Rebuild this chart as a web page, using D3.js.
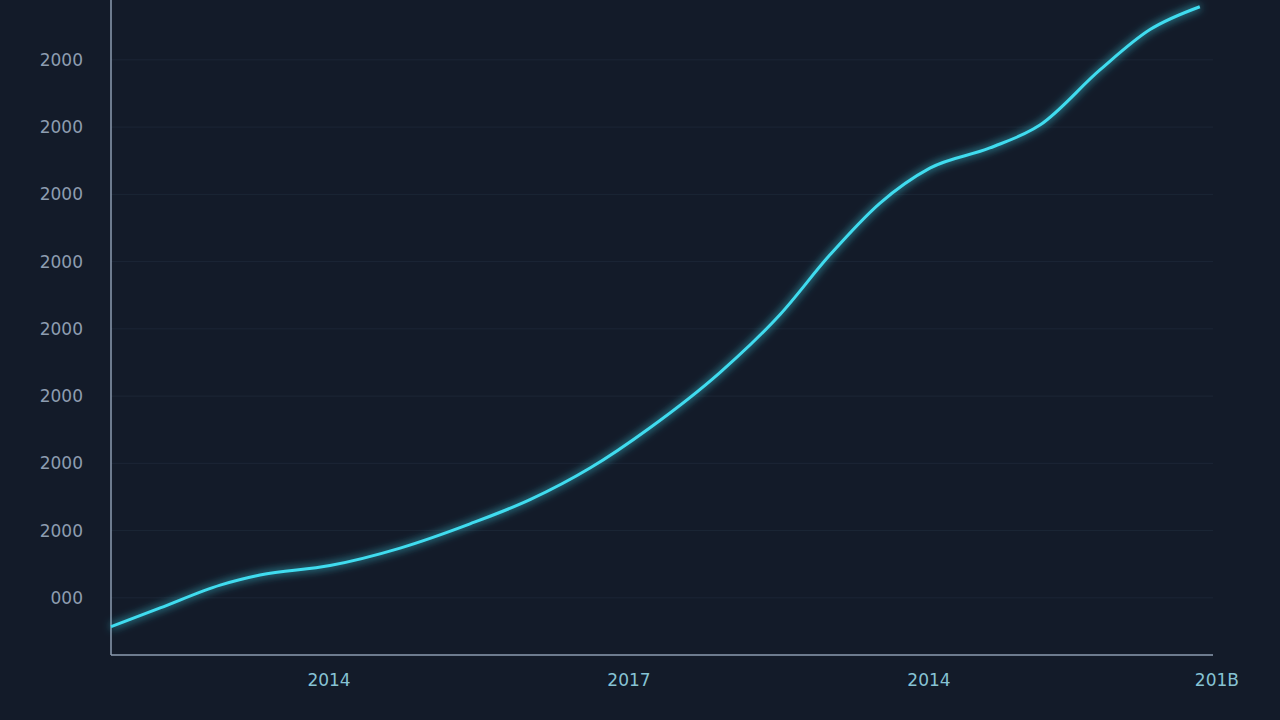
<!DOCTYPE html>
<html><head><meta charset="utf-8">
<script src="https://cdn.jsdelivr.net/npm/d3@7"></script>
<style>body{margin:0;background:#131b29;overflow:hidden}</style>
</head><body>
<script>
// tick labels as printed on the chart
const yTickLabels = ["000", "2000", "2000", "2000", "2000", "2000", "2000", "2000", "2000"];
const yTickValues = [0, 1, 2, 3, 4, 5, 6, 7, 8];
const xTickLabels = ["2014", "2017", "2014", "201B"];
const xTickValues = [1, 2, 3, 3.96];

// series
const xs = [0.273, 0.437, 0.637, 0.77, 1.003, 1.237, 1.47, 1.67, 1.87, 2.07, 2.303, 2.503, 2.67, 2.837, 3.003, 3.203, 3.37, 3.57, 3.737, 3.903];
const ys = [-0.43, -0.15, 0.19, 0.34, 0.48, 0.74, 1.10, 1.46, 1.93, 2.53, 3.35, 4.21, 5.10, 5.87, 6.39, 6.69, 7.03, 7.85, 8.45, 8.79];

function main() {
    let svg = d3.select("body").append("svg")
        .attr("width", 1280)
        .attr("height", 720);

    svg.append("rect").attr("width", 1280).attr("height", 720).attr("fill", "#131b29");

    let x = d3.scaleLinear().domain([0.273, 3.947]).range([111, 1213]);
    let y = d3.scaleLinear().domain([-0.85, 8.89]).range([655, 0]);

    // glow filter
    let f = svg.append("defs").append("filter").attr("id", "glow")
        .attr("x", "-20%").attr("y", "-20%").attr("width", "140%").attr("height", "140%");
    f.append("feGaussianBlur").attr("stdDeviation", 4).attr("result", "b");
    let m = f.append("feMerge");
    m.append("feMergeNode").attr("in", "b");
    m.append("feMergeNode").attr("in", "SourceGraphic");

    // faint gridlines
    svg.append("g").selectAll("line").data(yTickValues).join("line")
        .attr("x1", 111).attr("x2", 1213)
        .attr("y1", d => y(d)).attr("y2", d => y(d))
        .attr("stroke", "#1c2636").attr("stroke-width", 1);

    // y labels
    svg.append("g").selectAll("text").data(yTickValues).join("text")
        .attr("x", 83).attr("y", d => y(d) + 6)
        .attr("text-anchor", "end")
        .attr("fill", "#8d9db0")
        .style("font-family", "DejaVu Sans")
        .style("font-size", "17px")
        .text((d, i) => yTickLabels[i]);

    // x labels
    svg.append("g").selectAll("text").data(xTickValues).join("text")
        .attr("x", d => x(d)).attr("y", 686)
        .attr("text-anchor", "middle")
        .attr("fill", "#86c3d4")
        .style("font-family", "DejaVu Sans")
        .style("font-size", "17px")
        .text((d, i) => xTickLabels[i]);

    // axes
    svg.append("line").attr("x1", 111).attr("x2", 111).attr("y1", 0).attr("y2", 655)
        .attr("stroke", "#8d9db0").attr("stroke-width", 1.5);
    svg.append("line").attr("x1", 111).attr("x2", 1213).attr("y1", 655).attr("y2", 655)
        .attr("stroke", "#8d9db0").attr("stroke-width", 1.5);

    let pts = xs.map((d, i) => [d, ys[i]]);
    let line = d3.line().x(d => x(d[0])).y(d => y(d[1])).curve(d3.curveMonotoneX);

    svg.append("path").datum(pts)
        .attr("d", line)
        .attr("fill", "none")
        .attr("stroke", "#3fdcef")
        .attr("stroke-width", 3)
        .attr("filter", "url(#glow)");
}

main()
</script>
</body></html>
